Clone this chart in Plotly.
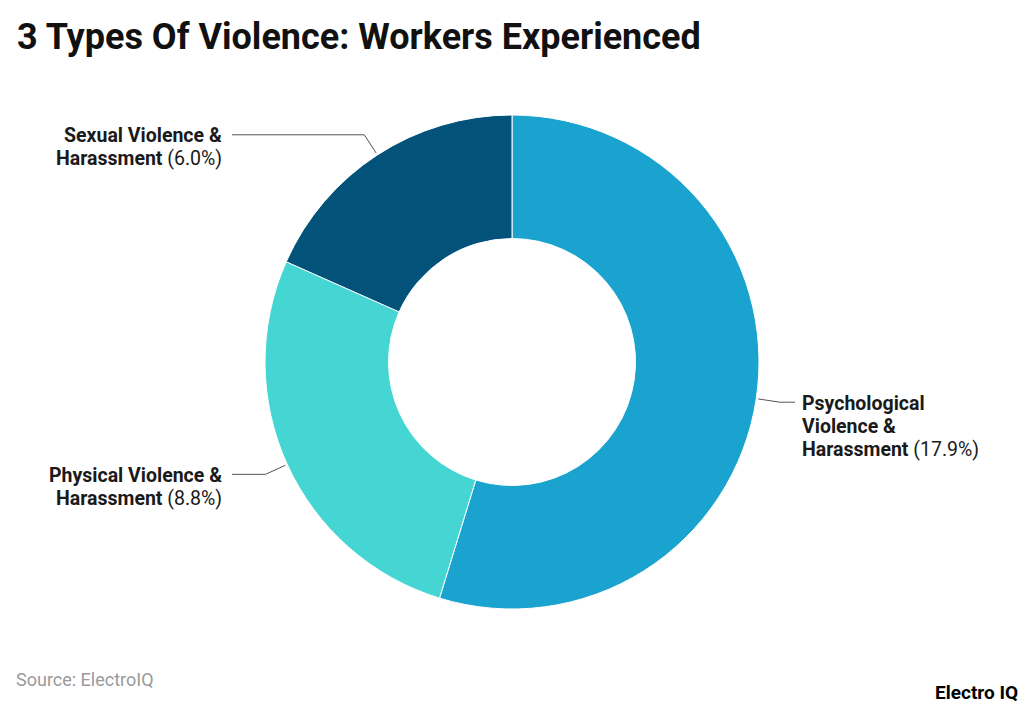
import math
import plotly.graph_objects as go

categories = ["Psychological Violence & Harassment", "Physical Violence & Harassment", "Sexual Violence & Harassment"]
values = [17.9, 8.8, 6.0]
label_lines = [["Psychological", "Violence &", "Harassment"], ["Physical Violence &", "Harassment"], ["Sexual Violence &", "Harassment"]]
colors = ["#1aa3cf", "#45d6d3", "#02527a"]

W, H = 1023, 707
CX, CY, R = 512, 362, 247

fig = go.Figure(go.Pie(
    labels=categories, values=values, sort=False, direction="clockwise", rotation=0,
    hole=0.5, marker=dict(colors=colors, line=dict(color="white", width=1)),
    textinfo="none", hoverinfo="label+value", showlegend=False,
    domain=dict(x=[(CX - R) / W, (CX + R) / W], y=[1 - (CY + R) / H, 1 - (CY - R) / H]),
))

def px2p(x, y):
    return x / W, 1 - y / H

total = sum(values)
cum = 0
annotations = []
shapes = []
LFONT = dict(family="Roboto", size=19.5, color="#1a1a1a")
for cat, v, lines in zip(categories, values, label_lines):
    mid = (cum + v / 2) / total * 2 * math.pi
    cum += v
    sx, sy = math.sin(mid), -math.cos(mid)
    p0 = (CX + (R + 2) * sx, CY + (R + 2) * sy)
    p1 = (CX + (R + 24) * sx, CY + (R + 24) * sy)
    right = sx > 0
    lx = 795 if right else 232
    x0, y0 = px2p(*p0)
    x1, y1 = px2p(*p1)
    x2, _ = px2p(lx, p1[1])
    path = "M %f %f L %f %f L %f %f" % (x0, y0, x1, y1, x2, y1)
    shapes.append(dict(type="path", path=path, xref="paper", yref="paper", line=dict(color="#555555", width=1)))
    for i, line in enumerate(lines):
        t = "<b>%s</b>" % line
        if i == len(lines) - 1:
            t += " (%.1f%%)" % v
        annotations.append(dict(
            x=(800 if right else 224) / W, y=1 - (p1[1] + 1 + 23 * i) / H,
            xref="paper", yref="paper", text=t, showarrow=False,
            xanchor="left" if right else "right", yanchor="middle",
            font=LFONT,
        ))

annotations.append(dict(x=15 / W, y=1 - 37 / H, xref="paper", yref="paper", xanchor="left", yanchor="middle",
                        text="<b>3 Types Of Violence: Workers Experienced</b>", showarrow=False,
                        font=dict(family="Roboto", size=36, color="#111111")))
annotations.append(dict(x=14 / W, y=1 - 679 / H, xref="paper", yref="paper", xanchor="left", yanchor="middle",
                        text="Source: ElectroIQ", showarrow=False,
                        font=dict(family="Roboto", size=18, color="#9a9a9a")))
annotations.append(dict(x=1020 / W, y=1 - 692 / H, xref="paper", yref="paper", xanchor="right", yanchor="middle",
                        text="<b>Electro IQ</b>", showarrow=False,
                        font=dict(family="Roboto", size=19, color="#000000")))

fig.update_layout(width=W, height=H, margin=dict(l=0, r=0, t=0, b=0),
                  paper_bgcolor="white", plot_bgcolor="white",
                  annotations=annotations, shapes=shapes)
fig.write_html("out.html", config={"displayModeBar": False},
               post_script="document.body.style.margin='0';")
